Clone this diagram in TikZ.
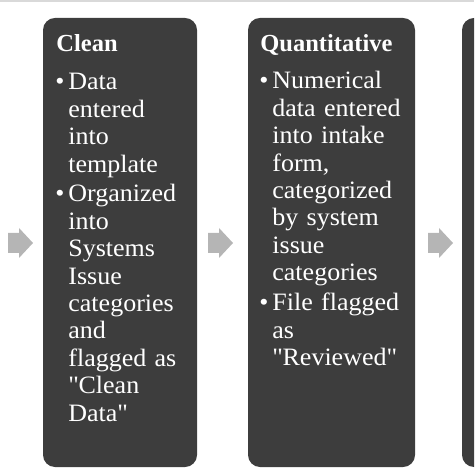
\documentclass[tikz,border=0pt]{standalone}
\usepackage{fontspec}
\setmainfont{Liberation Serif}
\newfontfamily\cardfont{Liberation Serif}[FakeStretch=1.04]
\usetikzlibrary{positioning}

\definecolor{cardgray}{HTML}{3D3D3D}
\definecolor{arrowgray}{HTML}{B5B5B5}
\definecolor{rulegray}{HTML}{D9D9D9}

\tikzset{
    cardtitle/.style={anchor=base west, inner sep=0pt, text=white,
        font=\fontsize{12.25}{14}\selectfont\bfseries},
    carditem/.style={anchor=base west, inner sep=0pt, text=white,
        text width=80pt, align=left, font=\cardfont\fontsize{12.5}{13.7}\selectfont}
}
\newcommand{\itemdot}{\noindent\llap{\textbullet\hspace{2pt}}}
\newcommand{\qq}{\textquotedbl}

\begin{document}
\begin{tikzpicture}[x=0.5pt, y=-0.5pt]
    \useasboundingbox (0,0) rectangle (474,474);
    \clip (0,0) rectangle (474,474);
    % thin band along the top
    \fill[rulegray] (0,0) rectangle (474,2);

    % the stage cards
    \fill[cardgray, rounded corners=6pt] (43,18) rectangle (197,467);
    \fill[cardgray, rounded corners=6pt] (248,18) rectangle (415,467);
    \fill[cardgray, rounded corners=6pt] (462,18) rectangle (530,467);

    % block arrows between the cards
    \foreach \x in {8,208,428} {
        \fill[arrowgray] (\x,233) -- ++(11,0) -- ++(0,-5) -- ++(14,15)
            -- ++(-14,15) -- ++(0,-5) -- ++(-11,0) -- cycle;
    }

    % first card
    \node[cardtitle] (clean) at (56,52) {Clean};
    \node[carditem] (cleanA) at (68,90) {\itemdot Data\\entered\\into\\template};
    \node[carditem] (cleanB) at (68,202) {\itemdot Organized\\into\\Systems\\Issue\\categories\\and\\flagged as\\\qq Clean\\Data\qq};

    % second card
    \node[cardtitle] (quant) at (260,52) {Quantitative};
    \node[carditem] (quantA) at (272,89) {\itemdot Numerical\\data entered\\into intake\\form,\\categorized\\by system\\issue\\categories};
    \node[carditem] (quantB) at (272,311) {\itemdot File flagged\\as\\\qq Reviewed\qq};
\end{tikzpicture}
\end{document}
